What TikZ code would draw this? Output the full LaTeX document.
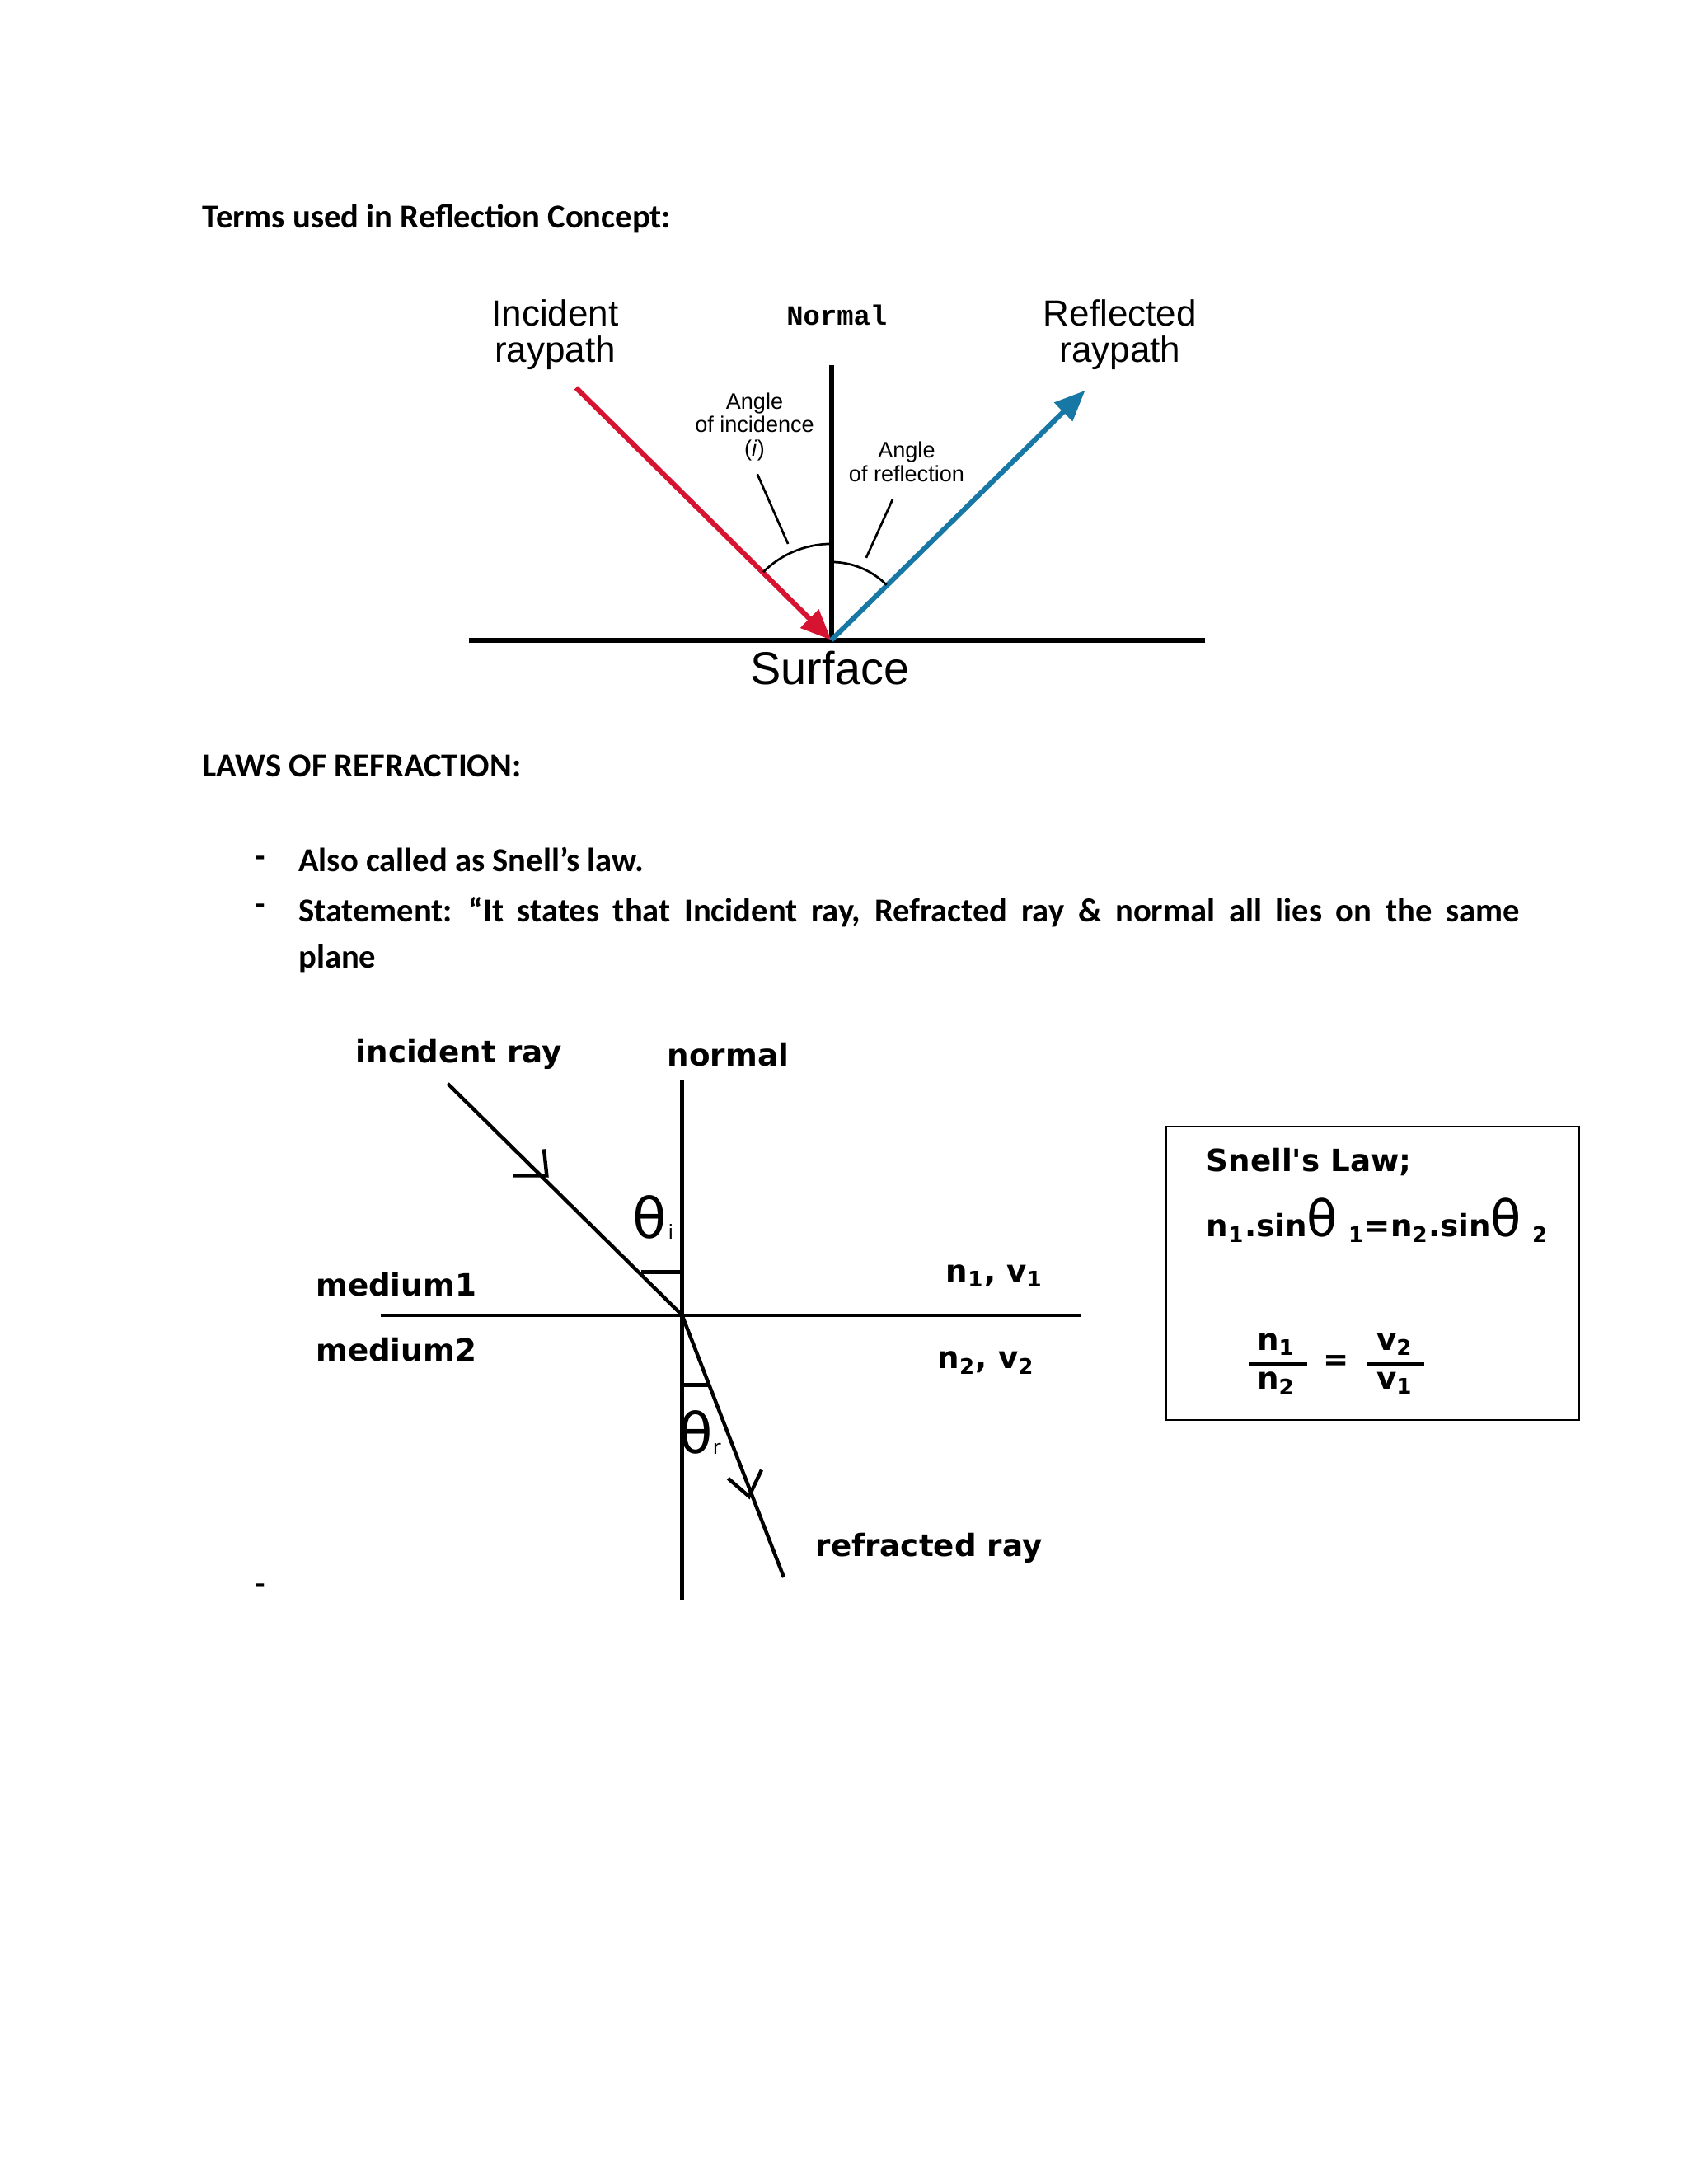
\documentclass[tikz,border=0pt]{standalone}
\usepackage{fontspec}
\setmainfont{Carlito}
\newfontfamily\arial{Liberation Sans}
\newfontfamily\cour{Liberation Mono}
\newfontfamily\dej{DejaVu Sans}
\usetikzlibrary{arrows.meta}
\begin{document}
\begin{tikzpicture}[x=0.5pt,y=-0.5pt,
  head/.style={anchor=west,font=\bfseries\fontsize{12}{16.5}\selectfont},
  lab/.style={font=\arial\fontsize{13}{13}\selectfont,align=center},
  sm/.style={font=\arial\fontsize{8}{8.5}\selectfont,align=center},
  hand/.style={font=\dej\bfseries\fontsize{11}{12}\selectfont},
  ln/.style={line width=0.8pt}]
\fill[white] (0,0) rectangle (1210,1566);
\node[head] (t1) at (138,157) {Terms used in Reflection Concept:};
\node[head] (t2) at (138,549) {LAWS OF REFRACTION:};
\node[head] (b1) at (176,618) {-};
\node[head] (l1) at (207,616) {Also called as Snell’s law.};
\node[head] (b2) at (176,652) {-};
\node[head,anchor=north west,align=left] (l2) at (207,636) {Statement:\hspace{2.2pt} “It\hspace{2.2pt} states\hspace{2.2pt} that\hspace{2.2pt} Incident\hspace{2.2pt} ray,\hspace{2.2pt} Refracted\hspace{2.2pt} ray\hspace{2.2pt} \&\hspace{2.2pt} normal\hspace{2.2pt} all\hspace{2.2pt} lies\hspace{2.2pt} on\hspace{2.2pt} the\hspace{2.2pt} same\\plane};
\node[head] (b3) at (176,1140) {-};
% reflection
\coordinate (O) at (596,459);
\coordinate (sl) at (336,459); \coordinate (sr) at (864,459);
\coordinate (nt) at (596,262);
\coordinate (is) at (413,278); \coordinate (re) at (778,280);
\draw[line width=1.8pt] (sl) -- (sr);
\draw[line width=1.8pt] (nt) -- (O);
\draw[line width=1.8pt,color={rgb,255:red,214;green,20;blue,50},-{Triangle[length=11pt,width=9pt]}] (is) -- (O);
\draw[line width=1.8pt,color={rgb,255:red,24;green,120;blue,165},-{Triangle[length=11pt,width=9pt]}] (O) -- (re);
\draw[ln] (596,390) arc[start angle=-90,end angle=-135,radius=69];
\draw[ln] (596,403) arc[start angle=-90,end angle=-45,radius=56];
\draw[ln] (543,340) -- (565,390);
\draw[ln] (640,358) -- (621,400);
\node[lab] (inc) at (398,240) {Incident\\raypath};
\node[font=\cour\bfseries\fontsize{10}{10}\selectfont] (nor) at (600,226) {Normal};
\node[lab] (ref) at (803,240) {Reflected\\raypath};
\node[sm] (ai) at (541,306) {Angle\\of incidence\\(\textit{i})};
\node[sm] (ar) at (650,331) {Angle\\of reflection};
\node[font=\arial\fontsize{16.5}{16}\selectfont] (sur) at (595,479) {Surface};
% refraction
\coordinate (P) at (489,943);
\draw[line width=1.3pt] (489,775) -- (489,1147);
\draw[line width=1.3pt] (273,943) -- (775,943);
\draw[line width=1.3pt] (321,777) -- (P);
\draw[line width=1.3pt] (P) -- (562,1131);
\draw[line width=1.3pt] (368,843) -- (392,843) -- (390,824);
\draw[line width=1.3pt] (522,1060) -- (537,1073) -- (546,1054);
\draw[line width=1.3pt] (460,912) -- (489,912);
\draw[line width=1.3pt] (489,993) -- (508,993);
\node[font=\dej\fontsize{20}{20}\selectfont] (ti) at (466,873) {θ};
\node[font=\dej\fontsize{7}{7}\selectfont] (tis) at (481,883) {i};
\node[font=\dej\fontsize{20}{20}\selectfont] (tr) at (499,1027) {θ};
\node[font=\dej\fontsize{7}{7}\selectfont] (trs) at (514,1039) {r};
\node[hand] (ir) at (329,756) {incident ray};
\node[hand] (nm) at (522,756) {normal};
\node[hand] (m1) at (284,921) {medium1};
\node[hand] (m2) at (284,968) {medium2};
\node[hand] (nv1) at (713,915) {n\textsubscript{1}, v\textsubscript{1}};
\node[hand] (nv2) at (707,977) {n\textsubscript{2}, v\textsubscript{2}};
\node[hand] (rr) at (666,1110) {refracted ray};
\draw[line width=0.7pt] (836,808) rectangle (1132,1018);
\node[hand,anchor=west] (sn) at (858,833) {Snell's Law;};
\node[hand,anchor=west] (eq) at (858,875) {n\textsubscript{1}.sin{\mdseries\fontsize{18}{18}\selectfont θ} \textsubscript{1}=n\textsubscript{2}.sin{\mdseries\fontsize{18}{18}\selectfont θ} \textsubscript{2}};
\node[hand,inner sep=1pt] (fn1) at (915,964) {n\textsubscript{1}};
\node[hand,inner sep=1pt] (fn2) at (915,992) {n\textsubscript{2}};
\node[hand,inner sep=1pt] (fv2) at (1000,964) {v\textsubscript{2}};
\node[hand,inner sep=1pt] (fv1) at (1000,992) {v\textsubscript{1}};
\node[hand] (eqs) at (958,977) {=};
\draw[line width=1pt] (895,978) -- (937,978);
\draw[line width=1pt] (980,978) -- (1021,978);
\end{tikzpicture}
\end{document}
